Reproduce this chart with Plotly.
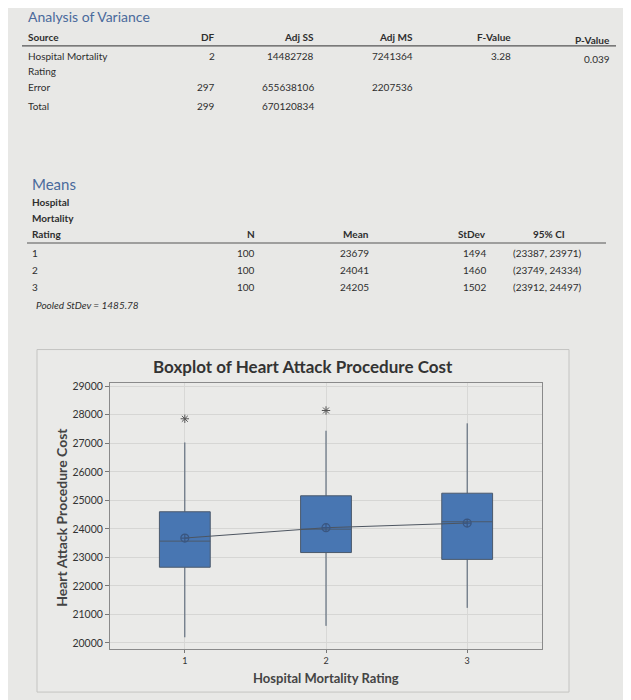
import plotly.graph_objects as go

# ---------------- data ----------------
anova_source = ["Hospital Mortality", "Error", "Total"]
anova_df = ["2", "297", "299"]
anova_adj_ss = ["14482728", "655638106", "670120834"]
anova_adj_ms = ["7241364", "2207536", ""]
anova_f = ["3.28", "", ""]
anova_p = ["0.039", "", ""]

ratings = [1, 2, 3]
means_n = ["100", "100", "100"]
means_mean = [23679, 24041, 24205]
means_stdev = ["1494", "1460", "1502"]
means_ci = ["(23387, 23971)", "(23749, 24334)", "(23912, 24497)"]
pooled_stdev = "1485.78"

box_q1 = [22655, 23170, 22930]
box_median = [23570, 23990, 24250]
box_q3 = [24600, 25160, 25250]
box_lower = [20200, 20600, 21230]
box_upper = [27030, 27440, 27700]
outlier_x = [1, 2]
outlier_y = [27860, 28150]
y_ticks = [20000, 21000, 22000, 23000, 24000, 25000, 26000, 27000, 28000, 29000]

# ---------------- figure ----------------
W, H = 631, 700
OFF = 8  # page body margin
FONT = "Lato, 'Open Sans', sans-serif"
BG = "#e8e8e6"


def px(x):
    return (x - OFF) / W


def py(y):
    return 1 - (y - OFF) / H


fig = go.Figure()

fig.add_trace(go.Box(
    x=ratings, q1=box_q1, median=box_median, q3=box_q3,
    lowerfence=box_lower, upperfence=box_upper,
    width=0.36, whiskerwidth=0,
    fillcolor="#4876b2", line=dict(color="#4b5a6c", width=1),
    boxpoints=False, showlegend=False, hoverinfo="skip",
))

fig.add_trace(go.Scatter(
    x=ratings, y=means_mean, mode="lines+markers",
    line=dict(color="#4d5560", width=1),
    marker=dict(symbol="circle-cross-open", size=8, color="#3a5680",
                line=dict(width=1.2)),
    showlegend=False, hoverinfo="skip",
))

fig.add_trace(go.Scatter(
    x=outlier_x, y=outlier_y, mode="markers",
    marker=dict(symbol="asterisk-open", size=7, color="#555",
                line=dict(width=1, color="#555")),
    showlegend=False, hoverinfo="skip",
))

ann = []


def txt(x, y, s, size=10, color="#2e2e2e", anchor="left", bold=False,
        italic=False, fam=FONT):
    if bold:
        s = "<b>" + s + "</b>"
    if italic:
        s = "<i>" + s + "</i>"
    ann.append(dict(x=px(x), y=py(y), xref="paper", yref="paper", text=s,
                    showarrow=False, xanchor=anchor, yanchor="middle",
                    font=dict(size=size, color=color, family=fam)))


# ANOVA table
txt(26, 14, "Analysis of Variance", size=14, color="#4a6a9c")
hdr_y = 34
txt(26, hdr_y, "Source", bold=True)
cols = [217, 316, 415, 513, 612]
for c, h in zip(cols, ["DF", "Adj SS", "Adj MS", "F-Value", "P-Value"]):
    txt(c, hdr_y + (3 if h == "P-Value" else 0), h, anchor="right", bold=True)
row_y = [53, 84, 103]
for i in range(3):
    txt(26, row_y[i], anova_source[i])
    vals = [anova_df[i], anova_adj_ss[i], anova_adj_ms[i], anova_f[i], anova_p[i]]
    for c, v in zip(cols, vals):
        if v:
            txt(c, row_y[i] + (3 if c == 612 else 0), v, anchor="right")
txt(26, 68, "Rating")

# Means table
txt(30, 182, "Means", size=15, color="#4a6a9c")
txt(30, 200, "Hospital", bold=True)
txt(30, 216, "Mortality", bold=True)
txt(30, 232, "Rating", bold=True)
txt(257, 232, "N", anchor="right", bold=True)
txt(371, 232, "Mean", anchor="right", bold=True)
txt(488, 232, "StDev", anchor="right", bold=True)
txt(567, 232, "95% CI", anchor="right", bold=True)
m_rows = [251, 268, 285]
for i in range(3):
    txt(30, m_rows[i], str(ratings[i]))
    txt(257, m_rows[i], means_n[i], anchor="right")
    txt(371, m_rows[i], str(means_mean[i]), anchor="right")
    txt(488, m_rows[i], means_stdev[i], anchor="right")
    txt(584, m_rows[i], means_ci[i], anchor="right")
txt(34, 303, "Pooled StDev = " + pooled_stdev, italic=True)

# Chart titles
txt(303, 365, "Boxplot of Heart Attack Procedure Cost", size=17,
    color="#333", anchor="center", bold=True)
txt(326, 678, "Hospital Mortality Rating", size=13, color="#444",
    anchor="center", bold=True)
ann.append(dict(x=px(62), y=py(517), xref="paper", yref="paper",
                text="<b>Heart Attack Procedure Cost</b>", textangle=-90,
                showarrow=False, xanchor="center", yanchor="middle",
                font=dict(size=14, color="#444", family=FONT)))

shapes = [
    # header rules
    dict(type="line", xref="paper", yref="paper", x0=px(22), x1=px(616),
         y0=py(43), y1=py(43), line=dict(color="#555", width=1.2)),
    dict(type="line", xref="paper", yref="paper", x0=px(27), x1=px(606),
         y0=py(241), y1=py(241), line=dict(color="#555", width=1.2)),
    # chart panel
    dict(type="rect", xref="paper", yref="paper", x0=px(37), x1=px(569),
         y0=py(692), y1=py(348), line=dict(color="#c4c4c2", width=1),
         fillcolor="#eaeae8", layer="below"),
]

fig.update_layout(
    width=W, height=H,
    margin=dict(l=0, r=0, t=0, b=0),
    paper_bgcolor=BG, plot_bgcolor="#ebebe9",
    font=dict(family=FONT, color="#333"),
    annotations=ann, shapes=shapes,
    xaxis=dict(domain=[px(110), px(542)], range=[0.47, 3.53],
               tickvals=ratings, ticktext=[str(r) for r in ratings],
               ticks="outside", ticklen=3, tickcolor="#777",
               tickfont=dict(size=9, color="#333"),
               showgrid=True, gridcolor="#d8d8d6", gridwidth=1,
               showline=True, linecolor="#8a8a8a", mirror=True,
               zeroline=False, fixedrange=True),
    yaxis=dict(domain=[py(649), py(382)], range=[19780, 29100],
               tickvals=y_ticks, tickformat="d", ticks="outside", ticklen=4,
               tickcolor="#777", tickfont=dict(size=10.5, color="#333"),
               showgrid=True, gridcolor="#d6d6d4", gridwidth=1,
               showline=True, linecolor="#8a8a8a", mirror=True,
               zeroline=False, fixedrange=True),
)

fig.write_html("out.html")
